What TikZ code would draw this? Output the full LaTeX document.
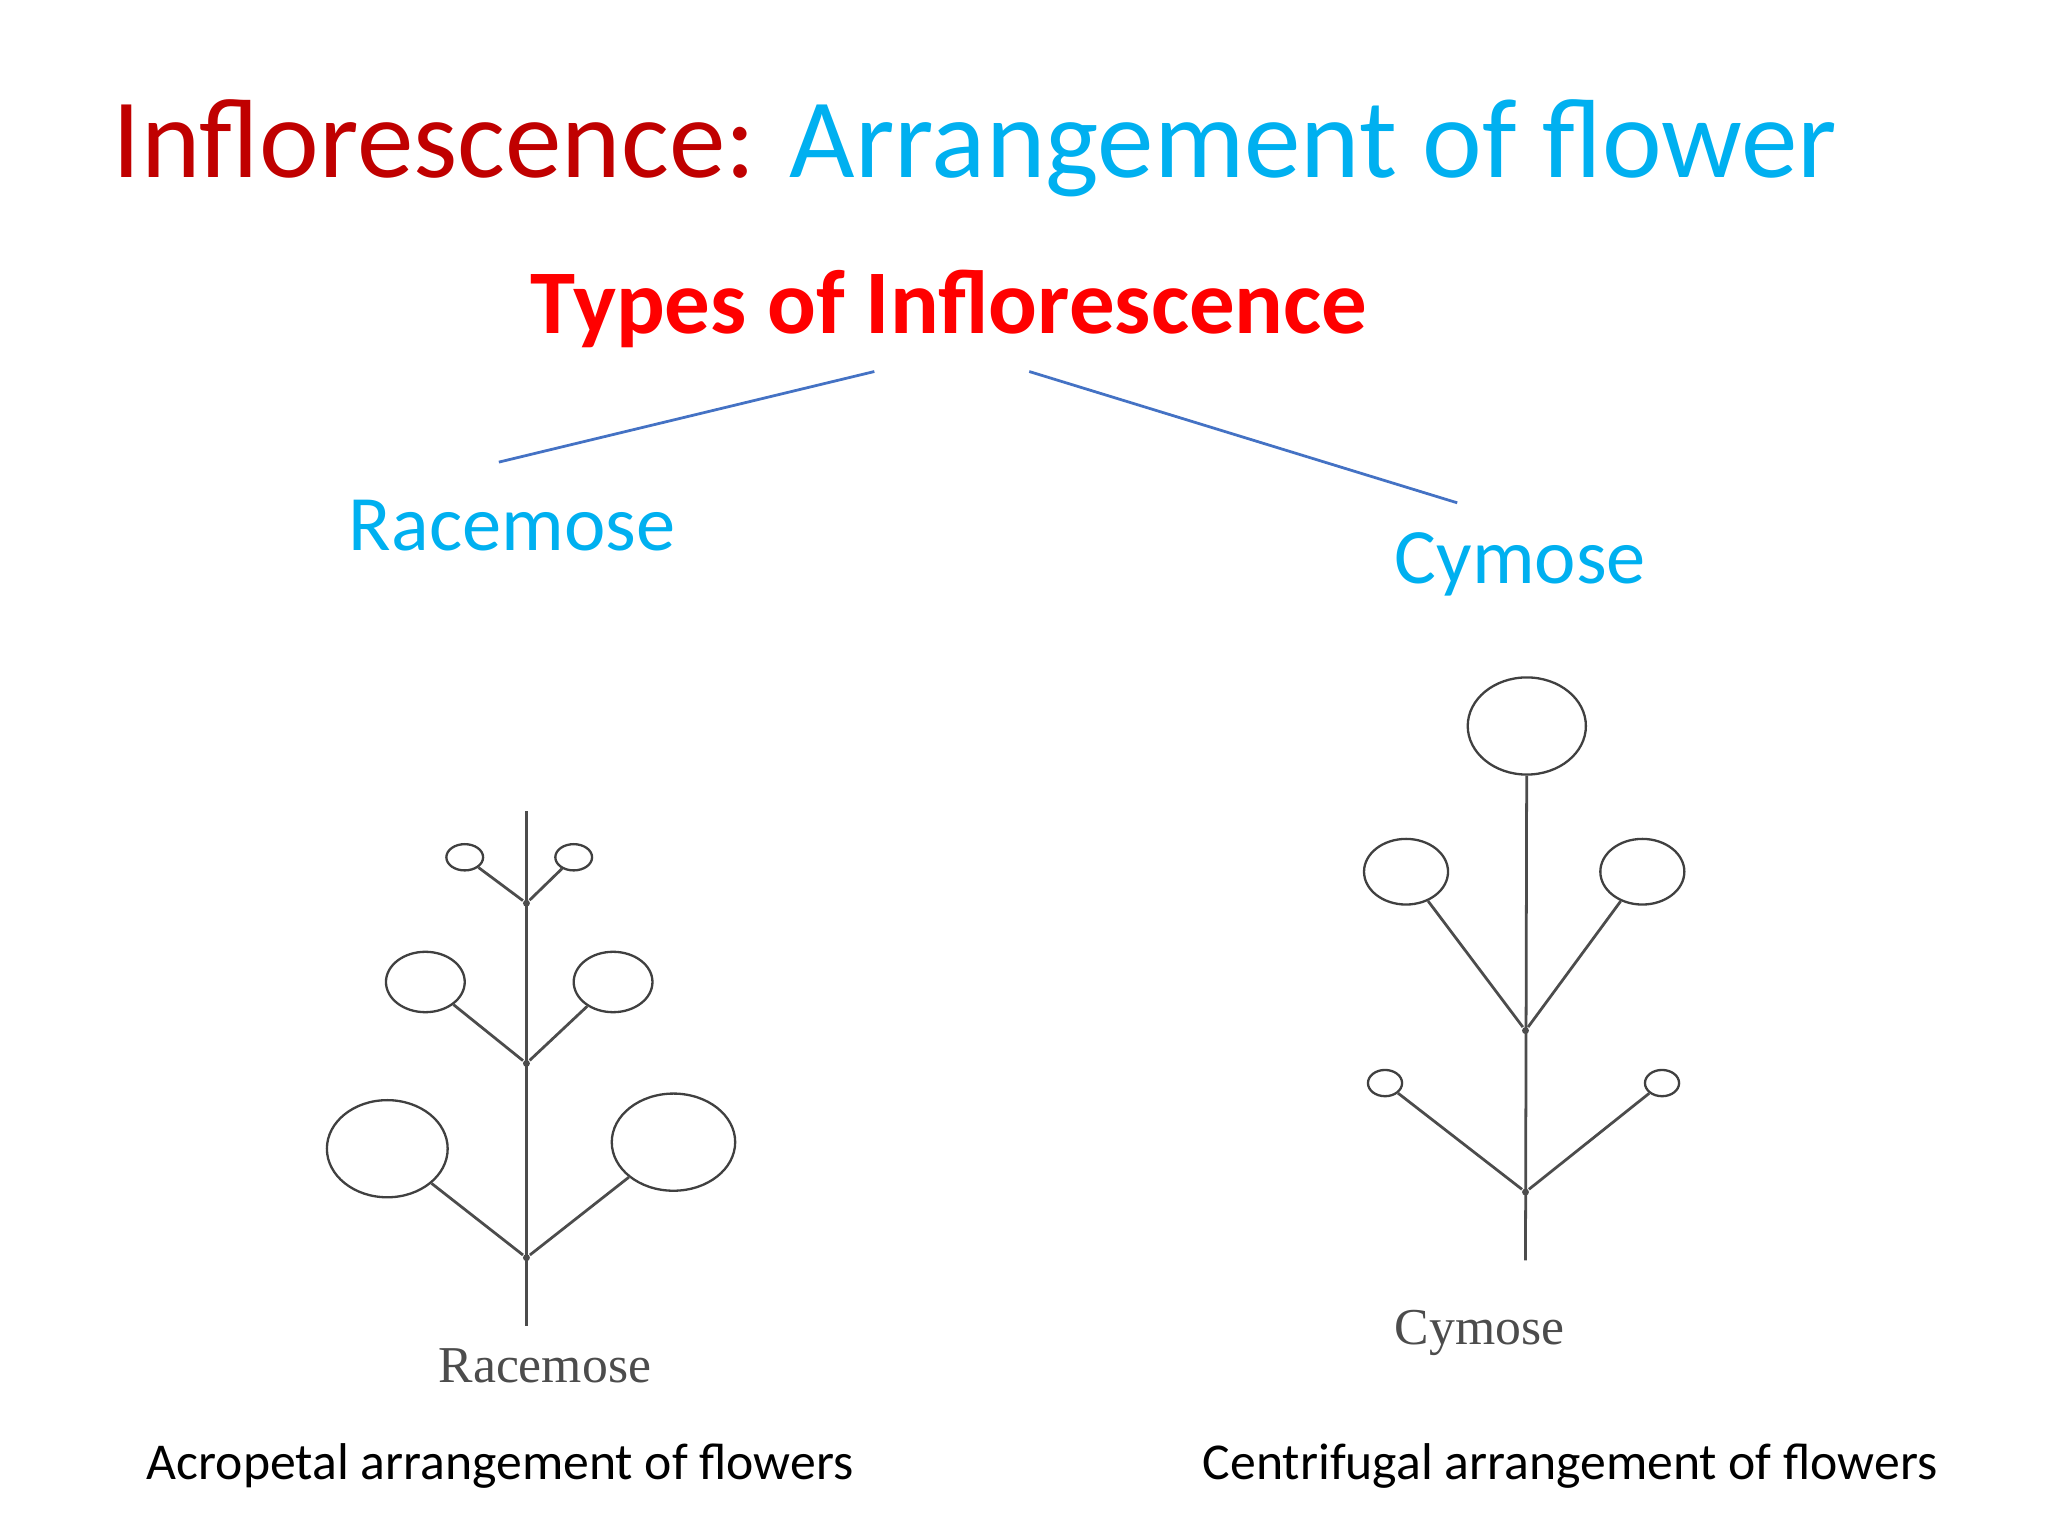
\documentclass[tikz,border=0pt]{standalone}
\usepackage{fontspec}
\setmainfont{Carlito}
\newfontfamily\serifl{Liberation Serif}
\usetikzlibrary{shapes.geometric}
\definecolor{dred}{RGB}{192,0,0}
\definecolor{sky}{RGB}{0,176,240}
\definecolor{lnblue}{RGB}{68,114,196}
\tikzset{
 fl/.style 2 args={ellipse,draw=black!75,line width=0.5pt,inner sep=0pt,minimum width=#1*0.01cm,minimum height=#2*0.01cm},
 stem/.style={draw=black!70,line width=0.6pt},
 bp/.style={circle,fill=black!70,inner sep=0pt,minimum size=1.5pt}
}
\begin{document}
\begin{tikzpicture}[x=0.01cm,y=-0.01cm]
\useasboundingbox (0,0) rectangle (1560,1170);
\node[anchor=base west,font=\fontsize{24.5}{28}\selectfont,inner sep=0] (title) at (85,135) {\textcolor{dred}{Inflorescence:} \textcolor{sky}{Arrangement of flower}};
\node[font=\fontsize{19.7}{22}\selectfont\bfseries,text=red] (types) at (723,235) {Types of Inflorescence};
\node[font=\fontsize{17}{20}\selectfont,text=sky] (rac) at (390,400) {Racemose};
\node[font=\fontsize{17}{20}\selectfont,text=sky] (cym) at (1158,430) {Cymose};
\coordinate (t1) at (666,283); \coordinate (r1) at (380,352);
\coordinate (t2) at (784,283); \coordinate (c1) at (1110,383);
\draw[lnblue,line width=0.6pt] (t1) -- (r1);
\draw[lnblue,line width=0.6pt] (t2) -- (c1);
% Racemose
\coordinate (ra) at (401,618); \coordinate (rb) at (401,1010);
\draw[stem] (ra) -- (rb);
\node[bp] (rp1) at (401,688) {}; \node[bp] (rp2) at (401,810) {}; \node[bp] (rp3) at (401,958) {};
\node[fl={28}{20}] (r11) at (354,653) {};
\node[fl={28}{20}] (r12) at (437,653) {};
\node[fl={60}{46}] (r21) at (324,748) {};
\node[fl={60}{46}] (r22) at (467,748) {};
\node[fl={92}{74}] (r31) at (295,875) {};
\node[fl={94}{74}] (r32) at (513,870) {};
\foreach \p/\f in {rp1/r11,rp1/r12,rp2/r21,rp2/r22,rp3/r31,rp3/r32} \draw[stem] (\p) -- (\f);
\node[font=\serifl\fontsize{11.2}{13}\selectfont,text=black!70] (rlab) at (415,1040) {Racemose};
% Cymose
\node[fl={90}{74}] (ctop) at (1163,553) {};
\coordinate (cb) at (1162,960);
\draw[stem] (ctop) -- (cb);
\node[bp] (cp1) at (1162,785) {}; \node[bp] (cp2) at (1162,908) {};
\node[fl={64}{50}] (c11) at (1071,664) {};
\node[fl={64}{50}] (c12) at (1251,664) {};
\node[fl={26}{20}] (c21) at (1055,825) {};
\node[fl={26}{20}] (c22) at (1266,825) {};
\foreach \p/\f in {cp1/c11,cp1/c12,cp2/c21,cp2/c22} \draw[stem] (\p) -- (\f);
\node[font=\serifl\fontsize{11.2}{13}\selectfont,text=black!70] (clab) at (1127,1015) {Cymose};
\node[font=\fontsize{11.2}{14}\selectfont] (acro) at (381,1117) {Acropetal arrangement of flowers};
\node[font=\fontsize{11.2}{14}\selectfont] (cent) at (1196,1117) {Centrifugal arrangement of flowers};
\end{tikzpicture}
\end{document}
